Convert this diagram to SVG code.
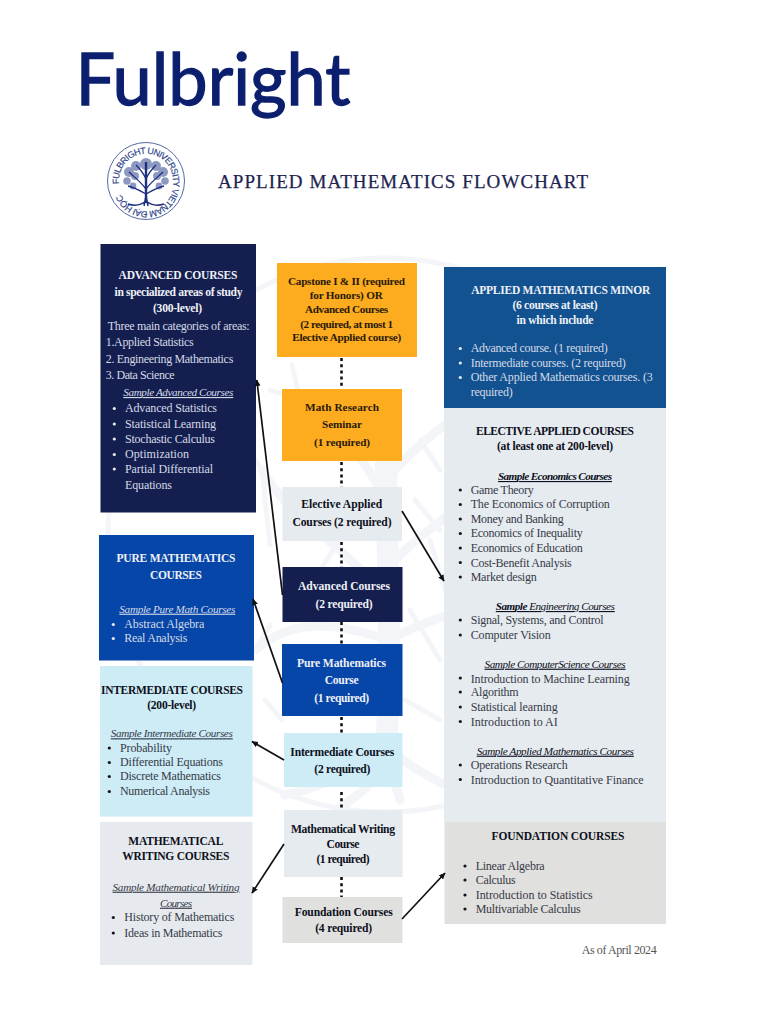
<svg xmlns="http://www.w3.org/2000/svg" width="768" height="1024" viewBox="0 0 768 1024">
<defs>
<style>
text{font-family:"Liberation Serif","Times New Roman",serif;font-size:12px;fill:#1d1d26}
.c{text-anchor:middle}
.b{font-weight:bold;font-size:11.6px}
.h{font-weight:bold;font-size:11.5px}
.s{font-style:italic;text-decoration:underline;font-size:11.2px}
.w{fill:#d6dae7}
.k{fill:#0d1020}
.g{fill:#363a46}
.o{fill:#2a1a08;font-weight:bold;font-size:11.2px}
.wb{fill:#eef0f6;font-weight:bold;font-size:11.6px}
.h.wb,.h.k{font-size:11.5px}
circle.d{fill:#e8ebf2}
circle.e{fill:#15151f}
.box{stroke:none}
.dot{fill:none;stroke:#111;stroke-width:2.6;stroke-dasharray:3 3.2}
.arr{fill:none;stroke:#111;stroke-width:1.7;marker-end:url(#ah)}
.wm{fill:none;stroke:#f3f5f9;stroke-linecap:round}
</style>
<marker id="ah" markerUnits="userSpaceOnUse" markerWidth="9" markerHeight="9" refX="6" refY="3" orient="auto"><path d="M0 0L6.5 3L0 6z" fill="#111"/></marker>
<path id="sealp" d="M119.2 184A27 27 0 1 1 173 181A27 27 0 1 1 119.2 184"/>
</defs>
<rect width="768" height="1024" fill="#fff"/>
<g id="watermark">
<circle class="wm" cx="385" cy="535" r="277" stroke-width="5"/>
<path class="wm" stroke-width="22" d="M385 760C392 680 388 560 385 420"/>
<path class="wm" stroke-width="9" d="M388 600C340 540 290 520 262 470M386 570C430 520 480 500 540 440M386 500C360 450 330 420 300 400M386 480C420 440 450 420 490 395M388 640C330 620 290 620 255 650M390 640C440 610 500 610 540 560M385 750C340 780 310 790 285 795M388 750C430 780 470 800 500 800M388 760L400 800M388 760C370 790 350 800 330 815"/>
<path class="wm" stroke-width="5" d="M300 400L270 390M300 400L292 365M490 395L520 375M490 395L480 360M262 470L245 445M540 440L565 430M540 440L535 410M430 540L445 590M340 540L320 570M262 470L270 545M255 650L270 625M420 440L440 470M415 500L440 530M410 610L440 660M265 700L282 720M405 700L440 720"/>
</g>
<g id="logo"><text x="75.5" y="105" textLength="275" lengthAdjust="spacingAndGlyphs" style="font-family:Lato,'Liberation Sans',sans-serif;font-size:72px;fill:#0c1f6e;stroke:#0c1f6e;stroke-width:1.3">Fulbright</text></g>
<g id="seal">
<circle cx="146" cy="181" r="38.5" fill="#fff" stroke="#5667a5" stroke-width="1"/>
<text style="font-family:'Liberation Sans',sans-serif;font-size:9px;fill:#2d3f8a;stroke:#2d3f8a;stroke-width:.15"><textPath href="#sealp" textLength="166">FULBRIGHT UNIVERSITY VIETNAM ĐẠI HỌC</textPath></text>
<g fill="#8d99c0"><circle cx="146" cy="164" r="6"/><circle cx="136" cy="166" r="5"/><circle cx="156" cy="166" r="5"/><circle cx="129" cy="172" r="5"/><circle cx="163" cy="172" r="5"/><circle cx="127" cy="181" r="3.8"/><circle cx="165" cy="181" r="3.8"/><circle cx="135" cy="176" r="4"/><circle cx="157" cy="176" r="4"/><circle cx="133" cy="186" r="3.4"/><circle cx="159" cy="186" r="3.4"/></g>
<path d="M146 189C140 181 133 176 129 172M146 189C152 181 159 176 163 172M146 179C143 172 139 168 136 165M146 179C149 172 153 168 156 165M146 194C139 190 133 187 128 186M146 194C153 190 159 187 164 186" fill="none" stroke="#1d2f80" stroke-width="1.3"/>
<path d="M146 196L144 206M146 196L148 206M146 201C140 206 134 206 128 204M146 201C152 206 158 206 164 204" fill="none" stroke="#1d2f80" stroke-width="1.5"/>
<path d="M146 203V162" stroke="#1d2f80" stroke-width="2.4"/>
</g>
<g id="title"><text x="218" y="188" textLength="370" style="font-size:19px;fill:#1d2450;stroke:#1d2450;stroke-width:.25">APPLIED MATHEMATICS FLOWCHART</text></g>

<g id="advanced-panel">
<rect class="box" x="100.5" y="244" width="155.5" height="268.5" fill="#141f4f"/>
<text class="c wb h" x="178" y="279" textLength="119">ADVANCED COURSES</text>
<text class="c wb" x="178.5" y="296" textLength="128">in specialized areas of study</text>
<text class="c wb" x="177.5" y="312" textLength="49">(300-level)</text>
<text class="w" x="107.7" y="330" textLength="142">Three main categories of areas:</text>
<text class="w" x="105.7" y="346" textLength="88">1.Applied Statistics</text>
<text class="w" x="105.7" y="362.7" textLength="127.6">2. Engineering Mathematics</text>
<text class="w" x="105.7" y="379" textLength="69">3. Data Science</text>
<text class="w c s" x="178.3" y="396" textLength="110">Sample Advanced Courses</text>
<circle class="d" cx="114.3" cy="408.5" r="1.6"/><text class="w" x="125" y="412" textLength="92">Advanced Statistics</text>
<circle class="d" cx="114.3" cy="424" r="1.6"/><text class="w" x="125" y="427.7" textLength="91">Statistical Learning</text>
<circle class="d" cx="114.3" cy="439" r="1.6"/><text class="w" x="125" y="442.7" textLength="90">Stochastic Calculus</text>
<circle class="d" cx="114.3" cy="454.5" r="1.6"/><text class="w" x="125" y="458" textLength="64">Optimization</text>
<circle class="d" cx="114.3" cy="469" r="1.6"/><text class="w" x="125" y="472.7" textLength="88">Partial Differential</text>
<text class="w" x="125" y="488.7" textLength="47">Equations</text>
</g>
<g id="pure-panel">
<rect class="box" x="99" y="535" width="155" height="125.5" fill="#0546a8"/>
<text class="c wb h" x="176" y="562.3" textLength="119">PURE MATHEMATICS</text>
<text class="c wb h" x="176" y="579" textLength="52">COURSES</text>
<text class="c s w" x="177.3" y="612.7" textLength="116">Sample Pure Math Courses </text>
<circle class="d" cx="113.3" cy="624.5" r="1.6"/><text class="w" x="124.3" y="628.3" textLength="80">Abstract Algebra</text>
<circle class="d" cx="113.3" cy="638.5" r="1.6"/><text class="w" x="124.3" y="642.3" textLength="63">Real Analysis</text>
</g>
<g id="intermediate-panel">
<rect class="box" x="100" y="666" width="152.5" height="150.5" fill="#cdecf6"/>
<text class="c k h" x="172" y="694" textLength="142">INTERMEDIATE COURSES</text>
<text class="c k b" x="171.7" y="708.7" textLength="49">(200-level)</text>
<text class="c s g" x="171.8" y="737.3" textLength="122">Sample Intermediate Courses</text>
<circle class="e" cx="109.3" cy="748" r="1.6"/><text class="g" x="120" y="751.7" textLength="52">Probability</text>
<circle class="e" cx="109.3" cy="762.5" r="1.6"/><text class="g" x="120" y="766" textLength="103">Differential Equations</text>
<circle class="e" cx="109.3" cy="776.5" r="1.6"/><text class="g" x="120" y="780.3" textLength="101">Discrete Mathematics</text>
<circle class="e" cx="109.3" cy="791.5" r="1.6"/><text class="g" x="120" y="795" textLength="90">Numerical Analysis</text>
</g>
<g id="writing-panel">
<rect class="box" x="100" y="822" width="152.5" height="143" fill="#e6eaef"/>
<text class="c k h" x="175.8" y="845" textLength="95">MATHEMATICAL</text>
<text class="c k h" x="175.8" y="860.3" textLength="107">WRITING COURSES</text>
<text class="c s g" x="176" y="890.7" textLength="127">Sample Mathematical Writing</text>
<text class="c s g" x="176" y="906.7" textLength="32">Courses</text>
<circle class="e" cx="113.3" cy="917.5" r="1.6"/><text class="g" x="124.3" y="921.3" textLength="110">History of Mathematics</text>
<circle class="e" cx="113.3" cy="933" r="1.6"/><text class="g" x="124.3" y="936.7" textLength="98">Ideas in Mathematics</text>
</g>

<g id="capstone">
<rect class="box" x="277" y="263" width="140" height="94" fill="#fdab1f"/>
<text class="c o" x="346.5" y="285.3" textLength="117">Capstone I &amp;  II (required</text>
<text class="c o" x="346.3" y="299.3" textLength="73">for Honors) OR</text>
<text class="c o" x="346.6" y="313.3" textLength="83">Advanced Courses</text>
<text class="c o" x="346.7" y="327.7" textLength="93">(2 required, at most 1</text>
<text class="c o" x="346.7" y="341" textLength="109">Elective Applied course)</text>
</g>
<g id="seminar">
<rect class="box" x="282" y="389" width="120" height="72" fill="#fdab1f"/>
<text class="c o" x="342" y="410.7" textLength="74">Math Research</text>
<text class="c o" x="342" y="428.3" textLength="40">Seminar</text>
<text class="c o" x="342" y="446" textLength="56">(1 required)</text>
</g>
<g id="elective">
<rect class="box" x="282.5" y="487" width="119.5" height="54" fill="#e6ebef"/>
<text class="c k b" x="341.7" y="507.7" textLength="81">Elective Applied</text>
<text class="c k b" x="342" y="525.7" textLength="99">Courses (2 required)</text>
</g>
<g id="advanced">
<rect class="box" x="282.5" y="567" width="120" height="55" fill="#141f4f"/>
<text class="c wb" x="344" y="590" textLength="92">Advanced Courses</text>
<text class="c wb" x="344" y="607.7" textLength="57">(2 required)</text>
</g>
<g id="pure">
<rect class="box" x="282" y="644" width="120.5" height="72" fill="#0546a8"/>
<text class="c wb" x="341.5" y="666.7" textLength="89">Pure Mathematics</text>
<text class="c wb" x="341.7" y="684.3" textLength="34">Course</text>
<text class="c wb" x="341.7" y="701.7" textLength="55">(1 required)</text>
</g>
<g id="intermediate">
<rect class="box" x="284" y="733" width="118.5" height="54" fill="#cdecf6"/>
<text class="c k b" x="342.3" y="755.7" textLength="104">Intermediate Courses</text>
<text class="c k b" x="342.3" y="772.7" textLength="56">(2 required)</text>
</g>
<g id="writing">
<rect class="box" x="284" y="810" width="118.5" height="67" fill="#e6ebef"/>
<text class="c k b" x="343" y="832.7" textLength="104">Mathematical Writing</text>
<text class="c k b" x="343" y="847.7" textLength="33">Course</text>
<text class="c k b" x="343" y="863.3" textLength="53">(1 required)</text>
</g>
<g id="foundation">
<rect class="box" x="282.5" y="897" width="120" height="46" fill="#e0e0de"/>
<text class="c k b" x="343.7" y="916" textLength="98">Foundation Courses</text>
<text class="c k b" x="343.7" y="931.7" textLength="57">(4 required)</text>
</g>

<g id="minor-panel">
<rect class="box" x="444" y="267" width="222" height="141" fill="#125290"/>
<text class="c wb h" x="560.7" y="294.3" textLength="179">APPLIED MATHEMATICS MINOR</text>
<text class="c wb" x="555" y="309" textLength="85">(6 courses at least)</text>
<text class="c wb" x="555" y="323.7" textLength="77">in which include</text>
<circle class="d" cx="460.3" cy="348.5" r="1.6"/><text class="w" x="470.7" y="352.3" textLength="137">Advanced course. (1 required)</text>
<circle class="d" cx="460.3" cy="363" r="1.6"/><text class="w" x="470.7" y="367" textLength="155">Intermediate courses. (2 required)</text>
<circle class="d" cx="460.3" cy="377.5" r="1.6"/><text class="w" x="470.7" y="381.3" textLength="182">Other Applied Mathematics courses. (3</text>
<text class="w" x="470.7" y="395.7" textLength="42">required)</text>
</g>
<g id="elective-panel">
<rect class="box" x="444" y="408" width="222" height="414" fill="#e6ebf0"/>
<text class="c k h" x="555" y="435.3" textLength="158">ELECTIVE APPLIED COURSES</text>
<text class="c k b" x="555" y="450" textLength="116">(at least one at 200-level)</text>
<text class="c s k" x="555" y="480" textLength="114" style="font-weight:bold">Sample Economics Courses</text>
<circle class="e" cx="460.3" cy="490" r="1.6"/><text class="g" x="470.7" y="494" textLength="63">Game Theory</text>
<circle class="e" cx="460.3" cy="504.5" r="1.6"/><text class="g" x="470.7" y="508.3" textLength="139">The Economics of Corruption</text>
<circle class="e" cx="460.3" cy="519" r="1.6"/><text class="g" x="470.7" y="523.3" textLength="93">Money and Banking</text>
<circle class="e" cx="460.3" cy="533.5" r="1.6"/><text class="g" x="470.7" y="537.3" textLength="112">Economics of Inequality</text>
<circle class="e" cx="460.3" cy="548" r="1.6"/><text class="g" x="470.7" y="552" textLength="112">Economics of Education</text>
<circle class="e" cx="460.3" cy="562.5" r="1.6"/><text class="g" x="470.7" y="566.7" textLength="101">Cost-Benefit Analysis</text>
<circle class="e" cx="460.3" cy="577" r="1.6"/><text class="g" x="470.7" y="581" textLength="66">Market design</text>
<text class="c s k" x="555.3" y="610" textLength="119"><tspan style="font-weight:bold">Sample</tspan> Engineering Courses</text>
<circle class="e" cx="460.3" cy="620" r="1.6"/><text class="g" x="470.7" y="624" textLength="133">Signal, Systems, and Control</text>
<circle class="e" cx="460.3" cy="635" r="1.6"/><text class="g" x="470.7" y="639" textLength="80">Computer Vision</text>
<text class="c s k" x="555" y="667.7" textLength="141">Sample ComputerScience Courses</text>
<circle class="e" cx="460.3" cy="678" r="1.6"/><text class="g" x="470.7" y="682.7" textLength="159">Introduction to Machine Learning</text>
<circle class="e" cx="460.3" cy="692" r="1.6"/><text class="g" x="470.7" y="696" textLength="48">Algorithm</text>
<circle class="e" cx="460.3" cy="707" r="1.6"/><text class="g" x="470.7" y="711.3" textLength="87">Statistical learning</text>
<circle class="e" cx="460.3" cy="721.5" r="1.6"/><text class="g" x="470.7" y="725.7" textLength="87">Introduction to AI</text>
<text class="c s k" x="555.3" y="754.7" textLength="157">Sample Applied Mathematics Courses</text>
<circle class="e" cx="460.3" cy="765" r="1.6"/><text class="g" x="470.7" y="769" textLength="97">Operations Research</text>
<circle class="e" cx="460.3" cy="779.5" r="1.6"/><text class="g" x="470.7" y="783.7" textLength="173">Introduction to Quantitative Finance</text>
</g>
<g id="foundation-panel">
<rect class="box" x="444.5" y="822" width="221.5" height="102" fill="#e0e0de"/>
<text class="c k h" x="558" y="840.3" textLength="133">FOUNDATION COURSES</text>
<circle class="e" cx="465" cy="866" r="1.6"/><text class="g" x="475.7" y="870" textLength="69">Linear Algebra</text>
<circle class="e" cx="465" cy="880" r="1.6"/><text class="g" x="475.7" y="884" textLength="40">Calculus</text>
<circle class="e" cx="465" cy="895" r="1.6"/><text class="g" x="475.7" y="899" textLength="117">Introduction to Statistics</text>
<circle class="e" cx="465" cy="909" r="1.6"/><text class="g" x="475.7" y="913.3" textLength="105">Multivariable Calculus</text>
</g>
<g id="note"><text x="581.7" y="954.3" textLength="75" style="fill:#555">As of April 2024</text></g>

<g id="connectors">
<path class="dot" d="M341.5 358V389"/><path class="dot" d="M341.5 462V487"/><path class="dot" d="M341.5 542V567"/><path class="dot" d="M341.5 622V644"/><path class="dot" d="M341.5 717V733"/><path class="dot" d="M341.5 792V810"/><path class="dot" d="M341.5 877V897"/>
<path class="arr" d="M282.5 595L256.8 380"/>
<path class="arr" d="M282.5 683L253 599"/>
<path class="arr" d="M284 760L252 741.5"/>
<path class="arr" d="M284 844L252 893"/>
<path class="arr" d="M402 511L444 581"/>
<path class="arr" d="M402 919L445 873"/>
</g>
</svg>
